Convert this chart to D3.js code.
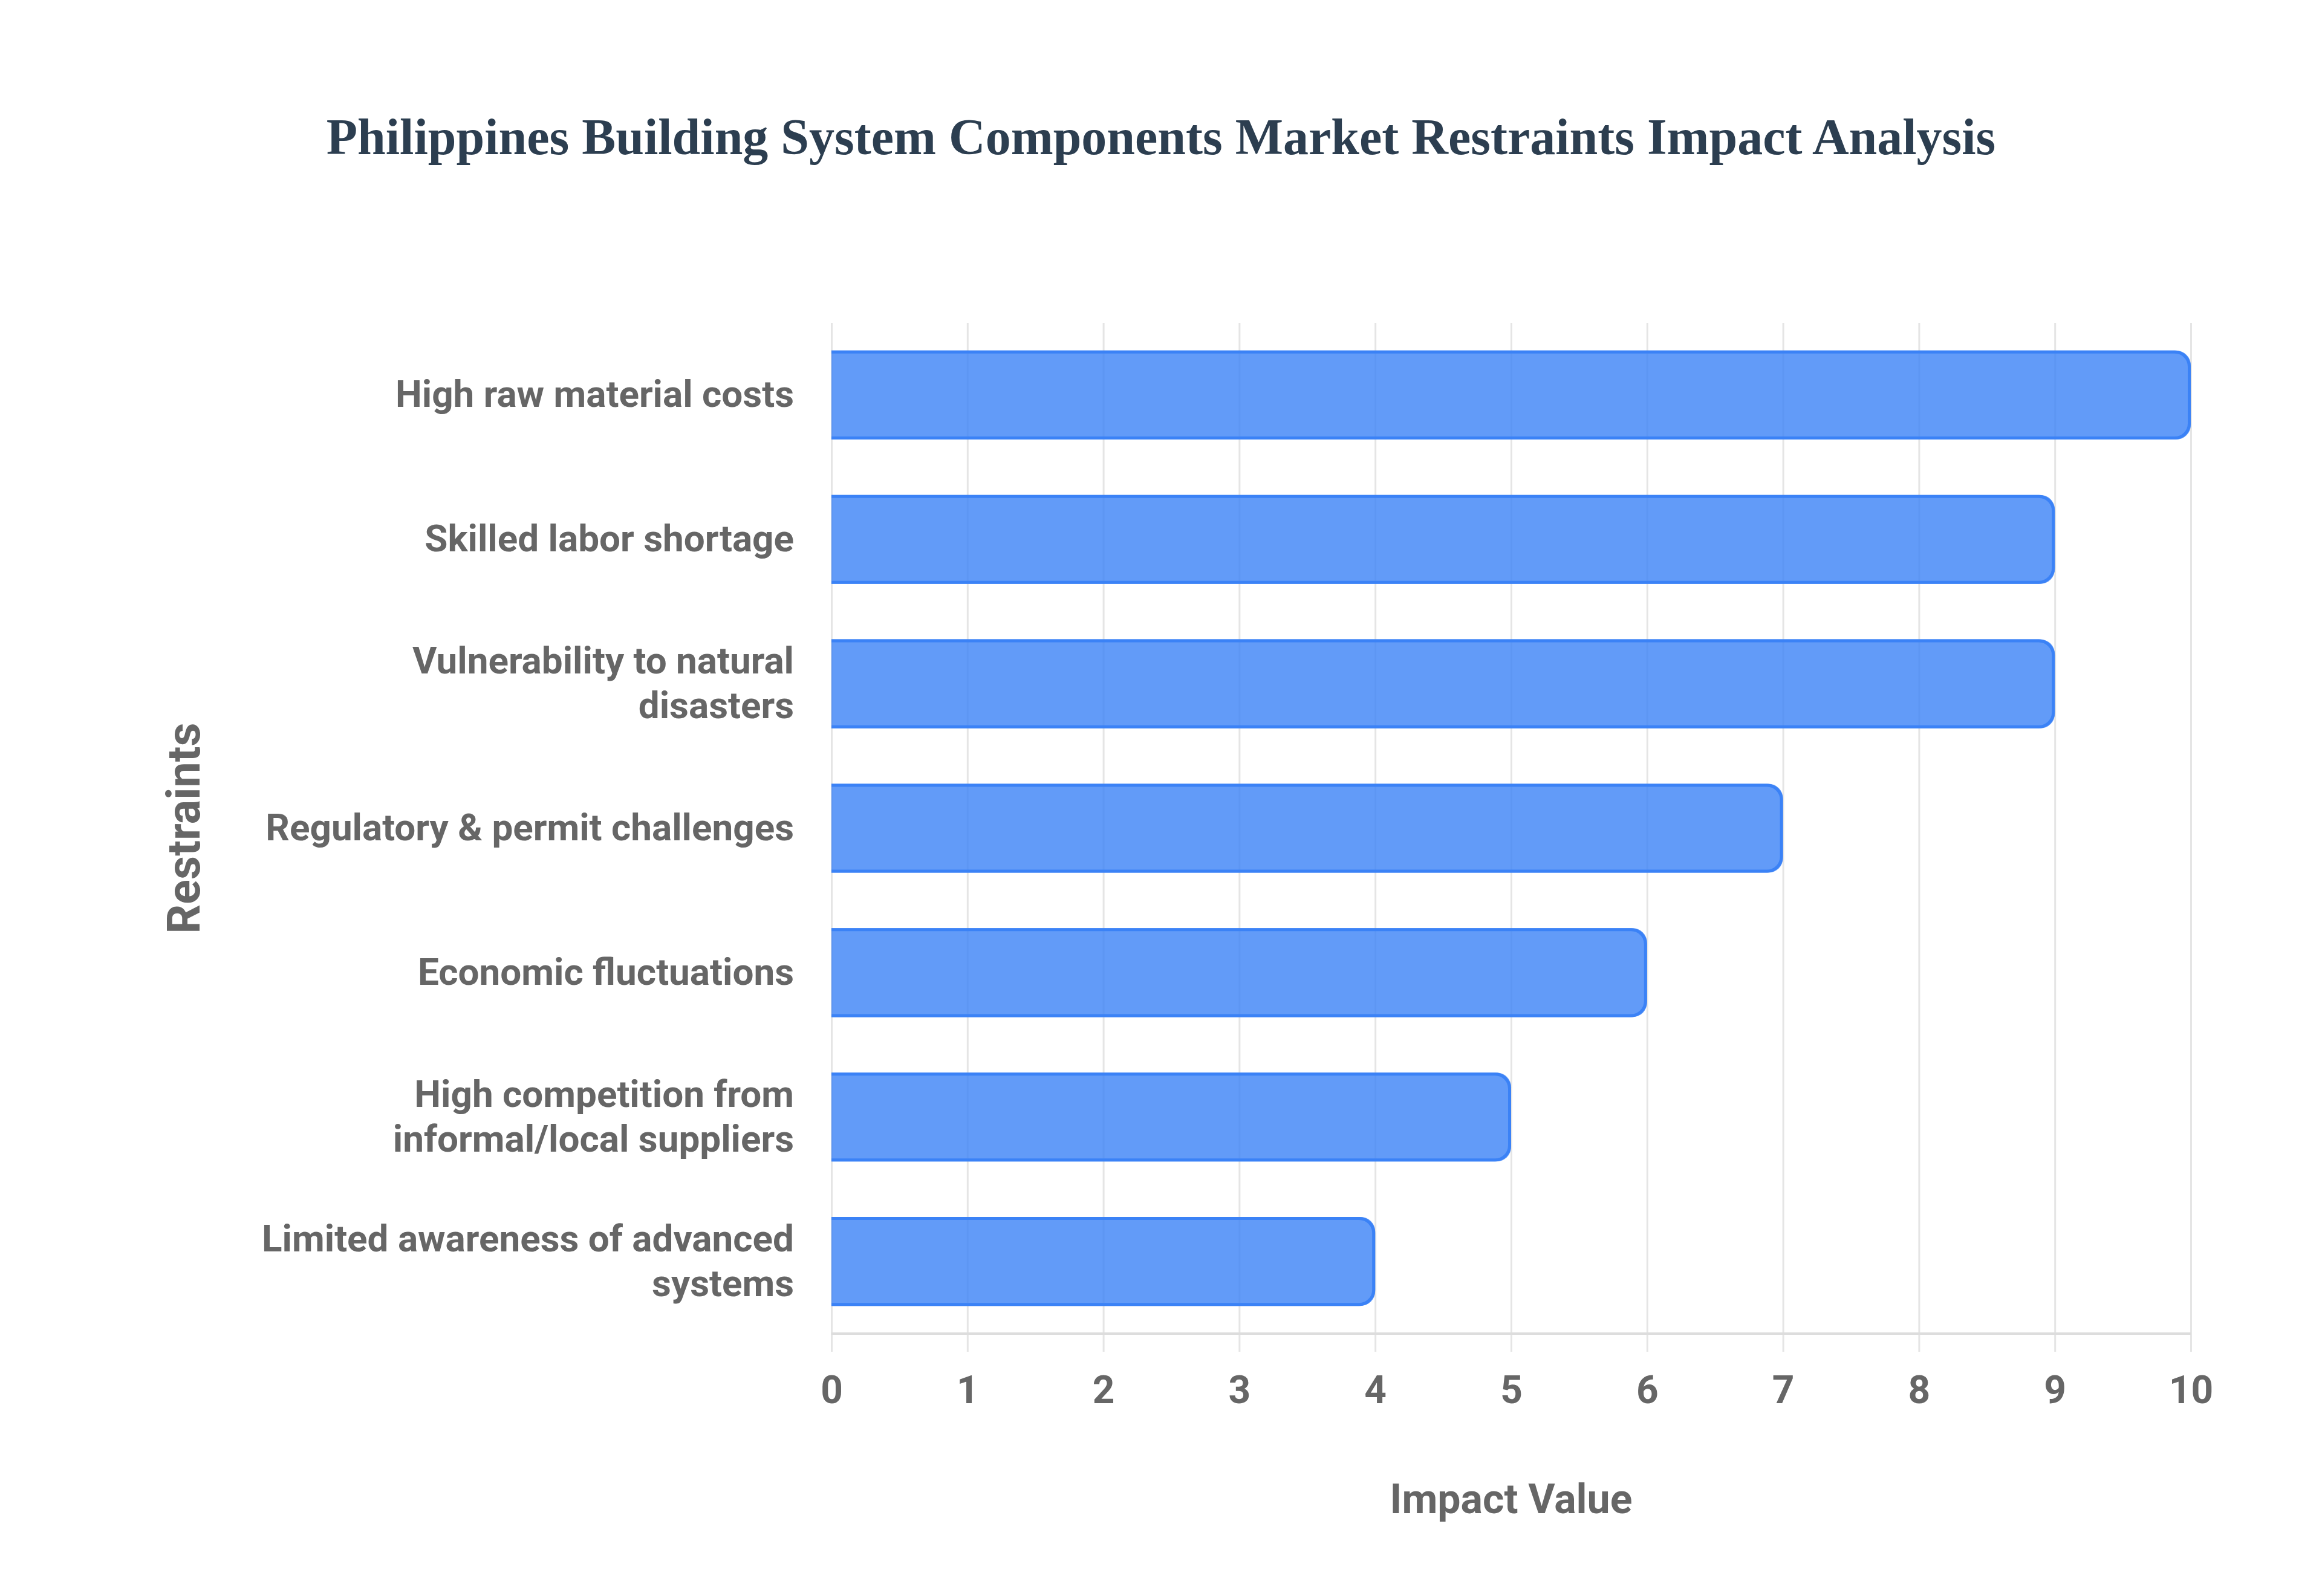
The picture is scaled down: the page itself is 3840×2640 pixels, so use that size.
<!DOCTYPE html>
<html>
<head>
<meta charset="utf-8">
<script src="https://cdn.jsdelivr.net/npm/d3@7"></script>
<style>
  body { margin: 0; background: #fff; }
  svg { display: block; }
</style>
</head>
<body>
<div id="chart"></div>
<script>
const title = 'Philippines Building System Components Market Restraints Impact Analysis'
const categories = [
  'High raw material costs',
  'Skilled labor shortage',
  'Vulnerability to natural\ndisasters',
  'Regulatory & permit challenges',
  'Economic fluctuations',
  'High competition from\ninformal/local suppliers',
  'Limited awareness of advanced\nsystems'
]
const values = [10, 9, 9, 7, 6, 5, 4]
const xTicks = [0, 1, 2, 3, 4, 5, 6, 7, 8, 9, 10]
const xTitle = 'Impact Value'
const yTitle = 'Restraints'

const width = 3840
const height = 2640
const margin = { top: 534, right: 217, bottom: 434, left: 1375 }
const sans = 'Roboto, "Liberation Sans", Arial, sans-serif'
const grey = '#666'

const svg = d3.select('#chart')
  .append('svg')
  .attr('width', width)
  .attr('height', height)

svg.append('rect').attr('width', width).attr('height', height).attr('fill', '#fff')

svg.append('text')
  .attr('x', width / 2)
  .attr('y', 255)
  .attr('text-anchor', 'middle')
  .style('font-family', '"Liberation Serif", "Times New Roman", serif')
  .style('font-weight', 'bold')
  .style('font-size', '84px')
  .style('fill', '#2c3e50')
  .text(title)

const x = d3.scaleLinear()
  .domain([0, 10])
  .range([margin.left, width - margin.right])

const y = d3.scaleBand()
  .domain(categories)
  .range([margin.top, height - margin.bottom])
  .paddingInner(0.384)
  .paddingOuter(0.192)

const bottom = height - margin.bottom

// vertical grid lines, running a bit past the axis as tick marks
const xAxis = g => g
  .attr('transform', `translate(0,${margin.top})`)
  .call(d3.axisBottom(x).tickValues(xTicks).tickSize(bottom - margin.top + 30).tickPadding(40))
  .call(g => g.select('.domain').remove())
  .call(g => g.selectAll('.tick line').attr('stroke', '#e5e5e5').attr('stroke-width', 3))
  .call(g => g.selectAll('.tick text')
    .attr('fill', grey)
    .style('font-family', sans)
    .style('font-weight', 'bold')
    .style('font-size', '64px'))

svg.append('g').call(xAxis)

svg.append('line')
  .attr('x1', x(0)).attr('x2', x(10))
  .attr('y1', bottom).attr('y2', bottom)
  .attr('stroke', '#ddd')
  .attr('stroke-width', 4)

// bars, rounded at the value end, border skipped at the start
const r = 24
const bars = svg.append('g')

bars.selectAll('path.fill')
  .data(values)
  .enter()
  .append('path')
  .attr('class', 'fill')
  .attr('fill', 'rgba(59,130,246,0.8)')
  .attr('d', (d, i) => {
    const y0 = y(categories[i])
    const h = y.bandwidth()
    const x0 = x(0)
    const x1 = x(d)
    return `M${x0},${y0}H${x1 - r}A${r},${r} 0 0 1 ${x1},${y0 + r}V${y0 + h - r}A${r},${r} 0 0 1 ${x1 - r},${y0 + h}H${x0}Z`
  })

bars.selectAll('path.edge')
  .data(values)
  .enter()
  .append('path')
  .attr('class', 'edge')
  .attr('fill', 'none')
  .attr('stroke', '#3b82f6')
  .attr('stroke-width', 5)
  .attr('d', (d, i) => {
    const y0 = y(categories[i]) + 2.5
    const h = y.bandwidth() - 5
    const x0 = x(0)
    const x1 = x(d) - 2.5
    return `M${x0},${y0}H${x1 - r}A${r},${r} 0 0 1 ${x1},${y0 + r}V${y0 + h - r}A${r},${r} 0 0 1 ${x1 - r},${y0 + h}H${x0}`
  })

// category labels
const lineH = 74
const labels = svg.append('g')
  .style('font-family', sans)
  .style('font-weight', 'bold')
  .style('font-size', '62px')
  .attr('fill', grey)
  .attr('text-anchor', 'end')

categories.forEach(c => {
  const lines = c.split('\n')
  const cy = y(c) + y.bandwidth() / 2
  const t = labels.append('text')
    .attr('x', margin.left - 62)
    .attr('y', cy - (lines.length - 1) * lineH / 2 + 20)
  lines.forEach((l, j) => {
    t.append('tspan')
      .attr('x', margin.left - 62)
      .attr('dy', j === 0 ? 0 : lineH)
      .text(l)
  })
})

// axis titles
svg.append('text')
  .attr('x', (x(0) + x(10)) / 2)
  .attr('y', 2503)
  .attr('text-anchor', 'middle')
  .style('font-family', sans)
  .style('font-weight', 'bold')
  .style('font-size', '68px')
  .attr('fill', grey)
  .text(xTitle)

svg.append('text')
  .attr('transform', `translate(330,${(margin.top + bottom) / 2}) rotate(-90)`)
  .attr('text-anchor', 'middle')
  .style('font-family', sans)
  .style('font-weight', 'bold')
  .style('font-size', '76px')
  .attr('fill', grey)
  .text(yTitle)
</script>
</body>
</html>
